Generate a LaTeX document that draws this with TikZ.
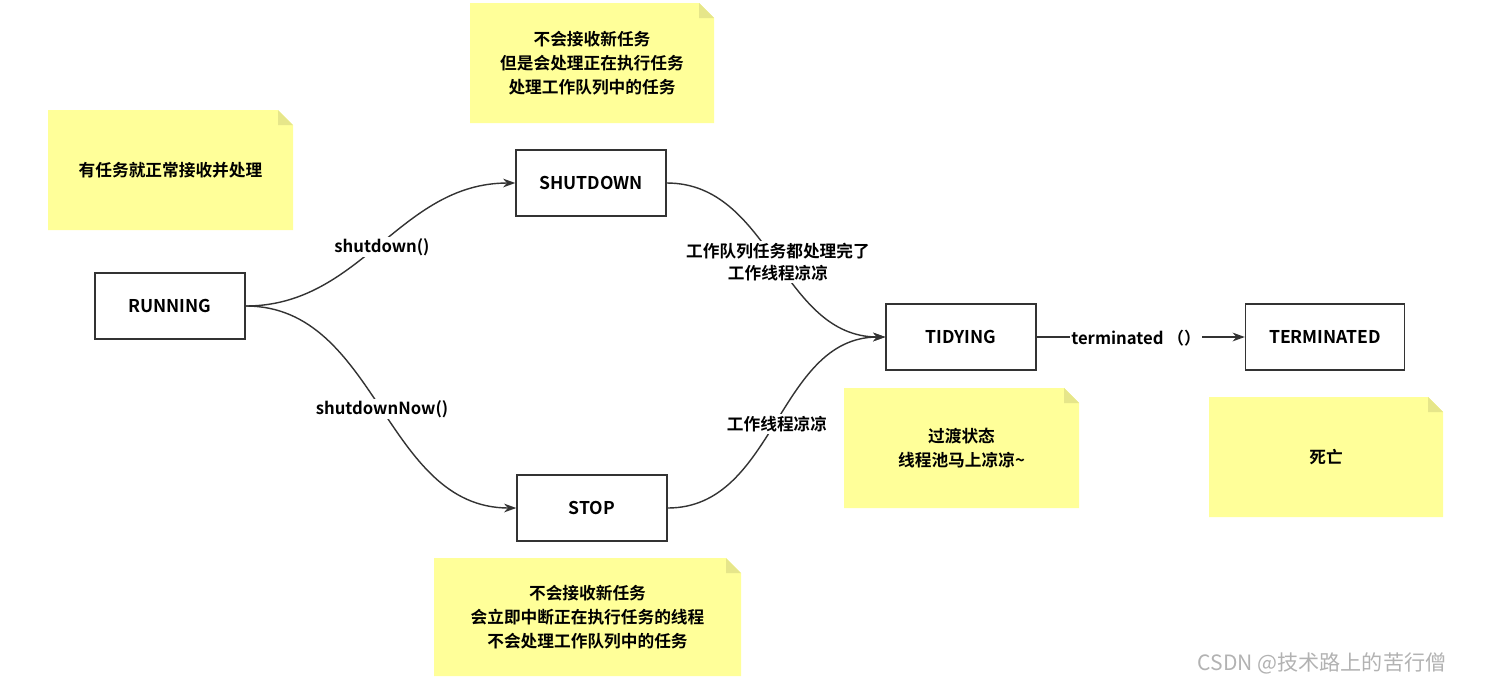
\documentclass[tikz,border=0pt]{standalone}
\usepackage{fontspec}
\setmainfont{Noto Sans CJK SC}[BoldFont={Noto Sans CJK SC Bold}]
\usetikzlibrary{arrows.meta}
\definecolor{notefill}{HTML}{FFFF99}
\definecolor{notefold}{HTML}{E6E68A}
\definecolor{linegray}{HTML}{333333}

\tikzset{
	state/.style={draw=linegray,thick,minimum width=3cm,minimum height=1.32cm,font=\bfseries\fontsize{10}{12}\selectfont},
	lbl/.style={fill=white,inner sep=1pt,align=center,font=\bfseries\fontsize{9.5}{13}\selectfont},
	notetext/.style={align=center,font=\bfseries\fontsize{9.5}{13.5}\selectfont}
}
% sticky note: corners x1,y1,x2,y2, text
\newcommand{\stickynote}[6]{
	\fill[notefill] (#1,#2) -- (#3-15,#2) -- (#3,#2+15) -- (#3,#4) -- (#1,#4) -- cycle;
	\fill[notefold] (#3-15,#2) -- (#3-15,#2+15) -- (#3,#2+15) -- cycle;
	\node[notetext] (#6) at ({(#1+#3)/2},{(#2+#4)/2}) {#5};
}

\begin{document}
\begin{tikzpicture}[x=0.02cm,y=-0.02cm,inner sep=2pt]
	\useasboundingbox (0,0) rectangle (1501,691);
	\stickynote{48}{110}{293}{230}{有任务就正常接收并处理}{nrun}
	\stickynote{470}{3}{714}{123}{不会接收新任务\\但是会处理正在执行任务\\处理工作队列中的任务}{nshut}
	\stickynote{844}{388}{1079}{508}{过渡状态\\线程池马上凉凉\textasciitilde}{ntidy}
	\stickynote{1209}{397}{1443}{517}{死亡}{nterm}
	\stickynote{434}{558}{741}{676}{不会接收新任务\\会立即中断正在执行任务的线程\\不会处理工作队列中的任务}{nstop}

	\node[state] (running) at (170,306) {RUNNING};
	\node[state] (shutdown) at (591,183) {SHUTDOWN};
	\node[state] (stop) at (592,508) {STOP};
	\node[state] (tidying) at (961,337) {TIDYING};
	\node[state,minimum width=3.18cm] (terminated) at (1325,337) {TERMINATED};

	\begin{scope}[draw=linegray,thick,-{Stealth[length=7pt,width=5pt]}]
	\draw (running.east) to[out=0,in=180,looseness=1] (shutdown.west);
	\draw (running.east) to[out=0,in=180,looseness=1] (stop.west);
	\draw (shutdown.east) to[out=0,in=180,looseness=1] (tidying.west);
	\draw (stop.east) to[out=0,in=180,looseness=1] (tidying.west);
	\draw (tidying.east) -- (terminated.west);
	\end{scope}

	\node[lbl] (lshut) at (382,247) {shutdown()};
	\node[lbl] (lnow) at (382,409) {shutdownNow()};
	\node[lbl] (lqueue) at (778,262) {工作队列任务都处理完了\\工作线程凉凉};
	\node[lbl] (lworker) at (777,424) {工作线程凉凉};
	\node[lbl] (lterm) at (1136,338) {terminated （）};

	\node[text=gray!60,font=\fontsize{12}{14}\selectfont] (mark) at (1322,663) {CSDN @技术路上的苦行僧};
\end{tikzpicture}
\end{document}
